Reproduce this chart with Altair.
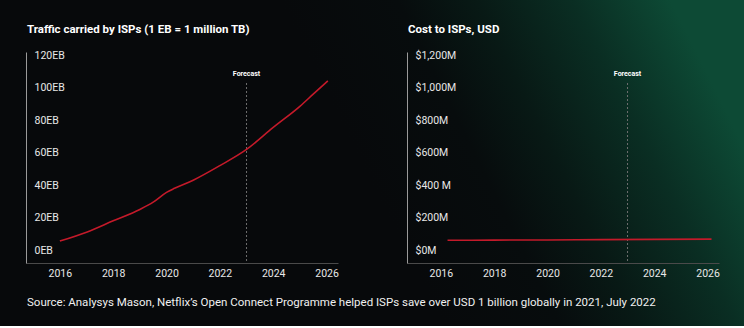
import json
import altair as alt
import pandas as pd

# ---------------- data ----------------
traffic_years = [2016.0, 2017.0, 2018.0, 2019.0, 2019.5, 2020.0, 2020.3, 2021.0,
                 2022.0, 2023.0, 2024.0, 2025.0, 2025.5, 2026.05]
traffic_eb = [5.5, 11, 18, 25, 29.5, 35.5, 38, 43, 52, 62, 75.5, 88.5, 96, 104.2]

cost_years = [2016.25, 2018.0, 2020.0, 2022.0, 2024.0, 2026.15]
cost_musd = [60, 61, 62, 64, 65.5, 67]

forecast_year = [2023]
year_ticks = [2016, 2018, 2020, 2022, 2024, 2026]
traffic_ticks = [0, 20, 40, 60, 80, 100, 120]
cost_ticks = [0, 200, 400, 600, 800, 1000, 1200]
cost_tick_labels = ["$0M", "$200M", "$400 M", "$600M", "$800M", "$1,000M", "$1,200M"]

title_left = "Traffic carried by ISPs (1 EB = 1 million TB)"
title_right = "Cost to ISPs, USD"
forecast_label = "Forecast"
source_text = ("Source: Analysys Mason, Netflix\u2019s Open Connect Programme helped ISPs "
               "save over USD 1 billion globally in 2021, July 2022")

# ---------------- tables ----------------
traffic_df = pd.DataFrame({"year": traffic_years, "value": traffic_eb})
cost_df = pd.DataFrame({"year": cost_years, "value": cost_musd})
fc_df = pd.DataFrame({"year": forecast_year})
one = pd.DataFrame({"k": [0]})

# ---------------- style ----------------
W, H = 312, 211
FONT = "Roboto"
RED = "#c41a2a"
LABEL = "#e8e8e8"

x_scale = alt.Scale(domain=[2014.73, 2026.43], nice=False, zero=False)
x_axis = alt.Axis(values=year_ticks, format="d", title=None, ticks=False, grid=False,
                  labelPadding=5, labelFontSize=10.5, labelColor=LABEL, labelFont=FONT,
                  domainColor="#4a4a4a", domainWidth=1, zindex=1)


def y_axis(values, label_expr):
    return alt.Axis(values=values, labelExpr=label_expr, title=None, ticks=False,
                    grid=False, labelAlign="left", labelBaseline="middle",
                    labelPadding=-8, labelFontSize=10.5, labelColor=LABEL,
                    labelFont=FONT, domainColor="#9a9a9a", domainWidth=1, zindex=1)


left_y = alt.Scale(domain=[-8, 122], nice=False, zero=False)
right_y = alt.Scale(domain=[-80, 1220], nice=False, zero=False)

traffic_expr = "datum.value + 'EB'"
cost_expr = json.dumps(cost_tick_labels) + "[round(datum.value / 200)]"

gradient = alt.Gradient(
    gradient="linear", x1=0.5, y1=0.56, x2=1.0, y2=0.45,
    stops=[
        alt.GradientStop(color="#07090b", offset=0.0),
        alt.GradientStop(color="#070c0d", offset=0.3),
        alt.GradientStop(color="#081915", offset=0.5),
        alt.GradientStop(color="#0a2e23", offset=0.75),
        alt.GradientStop(color="#0d4a35", offset=1.0),
    ],
)

# ---------------- left panel ----------------
bg = alt.Chart(one).mark_rect(fill=gradient, strokeWidth=0).encode(
    x=alt.value(-26), x2=alt.value(718), y=alt.value(-52), y2=alt.value(274)
)


def panel(df, yscale, yvals, yexpr, title):
    line = alt.Chart(df).mark_line(color=RED, strokeWidth=1.6, interpolate="monotone").encode(
        x=alt.X("year:Q", scale=x_scale, axis=x_axis),
        y=alt.Y("value:Q", scale=yscale, axis=y_axis(yvals, yexpr)),
    )
    rule = alt.Chart(fc_df).mark_rule(color="#6f6f6f", strokeDash=[2, 2], strokeWidth=1).encode(
        x=alt.X("year:Q", scale=x_scale), y=alt.value(31), y2=alt.value(H)
    )
    fc_text = alt.Chart(fc_df).mark_text(
        text=forecast_label, fontSize=7, fontWeight="bold", color="white", font=FONT,
        baseline="middle", align="center"
    ).encode(x=alt.X("year:Q", scale=x_scale), y=alt.value(22))
    ttl = alt.Chart(one).mark_text(
        text=title, fontSize=11.5, fontWeight="bold", color="white", font=FONT,
        align="left", baseline="middle"
    ).encode(x=alt.value(1), y=alt.value(-22))
    return [rule, fc_text, line, ttl]


source = alt.Chart(one).mark_text(
    text=source_text, fontSize=11.5, color="#f0f0f0", font=FONT, align="left", baseline="middle"
).encode(x=alt.value(1), y=alt.value(250.5))

left = alt.layer(bg, *panel(traffic_df, left_y, traffic_ticks, traffic_expr, title_left),
                 source).properties(width=W, height=H)
right = alt.layer(*panel(cost_df, right_y, cost_ticks, cost_expr, title_right)).properties(
    width=W, height=H)

chart = alt.HConcatChart(hconcat=[left, right], spacing=69, bounds="flush").properties(
    padding=0, background="white"
).configure_view(stroke=None)

chart.save("out.html", embed_options={"renderer": "svg", "actions": False})
